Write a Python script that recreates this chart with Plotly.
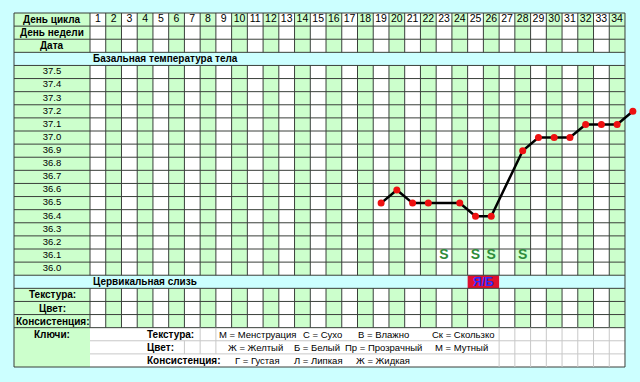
import plotly.graph_objects as go

# ---------------- data ----------------
cycle_days = list(range(1, 35))
temp_ticks = ["37.5", "37.4", "37.3", "37.2", "37.1", "37.0", "36.9", "36.8",
              "36.7", "36.6", "36.5", "36.4", "36.3", "36.2", "36.1", "36.0"]
bbt_days = [19, 20, 21, 22, 24, 25, 26, 28, 29, 30, 31, 32, 33, 34, 35]
bbt_temps = [36.5, 36.6, 36.5, 36.5, 36.5, 36.4, 36.4, 36.9, 37.0, 37.0, 37.0, 37.1, 37.1, 37.1, 37.2]
s_days = [23, 25, 26, 28]
s_temp = 36.1
mucus_days = [25, 26]
mucus_label = "Я/Б"
header_labels = ["День цикла", "День недели", "Дата"]
mucus_rows = ["Текстура:", "Цвет:", "Консистенция:"]
key_heads = ["Текстура:", "Цвет:", "Консистенция:"]
key_texture = ["М = Менструация", "С = Сухо", "В = Влажно", "Ск = Скользко"]
key_color = ["Ж = Желтый", "Б = Белый", "Пр = Прозрачный", "М = Мутный"]
key_consist = ["Г = Густая", "Л = Липкая", "Ж = Жидкая"]

# ---------------- geometry (layout only) ----------------
W, H = 640, 382
COL_W = 15.735
X_DAY1 = 90.0
TBL_L, TBL_R = 14.0, 625.0
TOP_PX = 13.0
PX_PER_T = 131.11  # pixels per 1.0 degree (row = 0.1)
T_TOP = 37.95      # table top in temperature units


def px2u(px):
    return 0.5 + (px - X_DAY1) / COL_W


def py2t(py):
    return T_TOP - (py - TOP_PX) / PX_PER_T


def row_top(r):
    return T_TOP - 0.1 * r


def row_mid(r):
    return T_TOP - 0.1 * r - 0.05


UL = px2u(TBL_L)
UR = cycle_days[-1] + 0.5
CYAN = "#CCFFFF"
GREEN = "#CCFFCC"
GRID = "#3A3F3A"
LIGHT = "#C8C8C8"
FONT = "Liberation Sans"

shapes = []


def rect(x0, x1, y0, y1, fill):
    shapes.append(dict(type="rect", xref="x", yref="y", x0=x0, x1=x1, y0=y0, y1=y1,
                       fillcolor=fill, line=dict(width=0), layer="below"))


def line(x0, x1, y0, y1, color=GRID, width=1):
    shapes.append(dict(type="line", xref="x", yref="y", x0=x0, x1=x1, y0=y0, y1=y1,
                       line=dict(color=color, width=width), layer="below"))


blocks = [(0, 3), (4, 20), (21, 24)]  # row ranges [start, end)

# label column fills
rect(UL, 0.5, row_top(3), row_top(0), GREEN)
rect(UL, 0.5, row_top(20), row_top(4), GREEN)
rect(UL, 0.5, row_top(27), row_top(21), GREEN)
# alternating day columns
for d in cycle_days:
    for a, b in blocks:
        rect(d - 0.5, d + 0.5, row_top(b), row_top(a), GREEN if d % 2 == 0 else "white")
# key area white
rect(0.5, UR, row_top(27), row_top(24), "white")
# mucus marker box
rect(mucus_days[0] - 0.5, mucus_days[-1] + 0.5, row_top(21), row_top(20), "#DD1030")

# horizontal grid
for r in range(0, 25):
    line(UL, UR, row_top(r), row_top(r))
line(UL, UR, row_top(27), row_top(27))
for r in (25, 26):
    line(0.5, UR, row_top(r), row_top(r), LIGHT)
# vertical grid
for a, b in blocks:
    for d in range(0, 34):
        line(d + 0.5, d + 0.5, row_top(b), row_top(a))
line(UL, UL, row_top(27), row_top(0))
line(UR, UR, row_top(27), row_top(0))
for d in range(26, 34):
    line(d + 0.5, d + 0.5, row_top(27), row_top(24), LIGHT)
for d in (7, 8):
    line(d + 0.5, d + 0.5, row_top(25), row_top(24), LIGHT)
for d in (6, 7, 8):
    line(d + 0.5, d + 0.5, row_top(26), row_top(25), LIGHT)

fig = go.Figure()

# day numbers
fig.add_trace(go.Scatter(x=cycle_days, y=[row_mid(0)] * len(cycle_days), mode="text",
                         text=[str(d) for d in cycle_days],
                         textfont=dict(family=FONT, size=10.5, color="black"),
                         hoverinfo="skip"))
# temperature tick labels
fig.add_trace(go.Scatter(x=[px2u(52)] * len(temp_ticks), y=[float(t) for t in temp_ticks],
                         mode="text", text=temp_ticks,
                         textfont=dict(family=FONT, size=9.5, color="black"),
                         hoverinfo="skip"))
# BBT line
fig.add_trace(go.Scatter(x=bbt_days, y=bbt_temps, mode="lines+markers",
                         line=dict(color="black", width=2.5),
                         marker=dict(color="#EE1111", size=7),
                         hoverinfo="skip"))
# S marks
fig.add_trace(go.Scatter(x=s_days, y=[s_temp] * len(s_days), mode="text",
                         text=["<b>S</b>"] * len(s_days),
                         textfont=dict(family=FONT, size=14, color="#2E8B3A"),
                         hoverinfo="skip"))

ann = []


def txt(x, y, s, size=9.5, bold=False, anchor="center", color="black"):
    ann.append(dict(x=x, y=y, xref="x", yref="y", text=("<b>%s</b>" % s) if bold else s,
                    showarrow=False, xanchor=anchor, yanchor="middle",
                    font=dict(family=FONT, size=size, color=color)))


for i, s in enumerate(header_labels):
    txt(px2u(52), row_mid(i), s, 10, True)
txt(px2u(91), row_mid(3), "Базальная температура тела", 10, True, "left")
txt(px2u(91), row_mid(20), "Цервикальная слизь", 10, True, "left")
for i, s in enumerate(mucus_rows):
    txt(px2u(52), row_mid(21 + i), s, 10, True)
txt(px2u(52), row_mid(24), "Ключи:", 10, True)
for i, s in enumerate(key_heads):
    txt(px2u(145), row_mid(24 + i), s, 10, True, "left")
for s, px in zip(key_texture, [217, 301, 356, 430]):
    txt(px2u(px), row_mid(24), s, 9.5, False, "left")
for s, px in zip(key_color, [226, 292, 343, 433]):
    txt(px2u(px), row_mid(25), s, 9.5, False, "left")
for s, px in zip(key_consist, [233, 292, 354]):
    txt(px2u(px), row_mid(26), s, 9.5, False, "left")
txt((mucus_days[0] + mucus_days[-1]) / 2, row_mid(20), mucus_label, 12, True, "center", "#2A2AFF")

fig.update_layout(
    width=W, height=H, margin=dict(l=0, r=0, t=0, b=0),
    paper_bgcolor=CYAN, plot_bgcolor="rgba(0,0,0,0)",
    showlegend=False, shapes=shapes, annotations=ann,
    xaxis=dict(range=[px2u(0), px2u(W)], visible=False, fixedrange=True),
    yaxis=dict(range=[py2t(H), py2t(0)], visible=False, fixedrange=True),
)
fig.write_html("out.html", config={"displayModeBar": False},
               post_script="document.body.style.margin='0px';document.body.style.background='%s';" % CYAN)
